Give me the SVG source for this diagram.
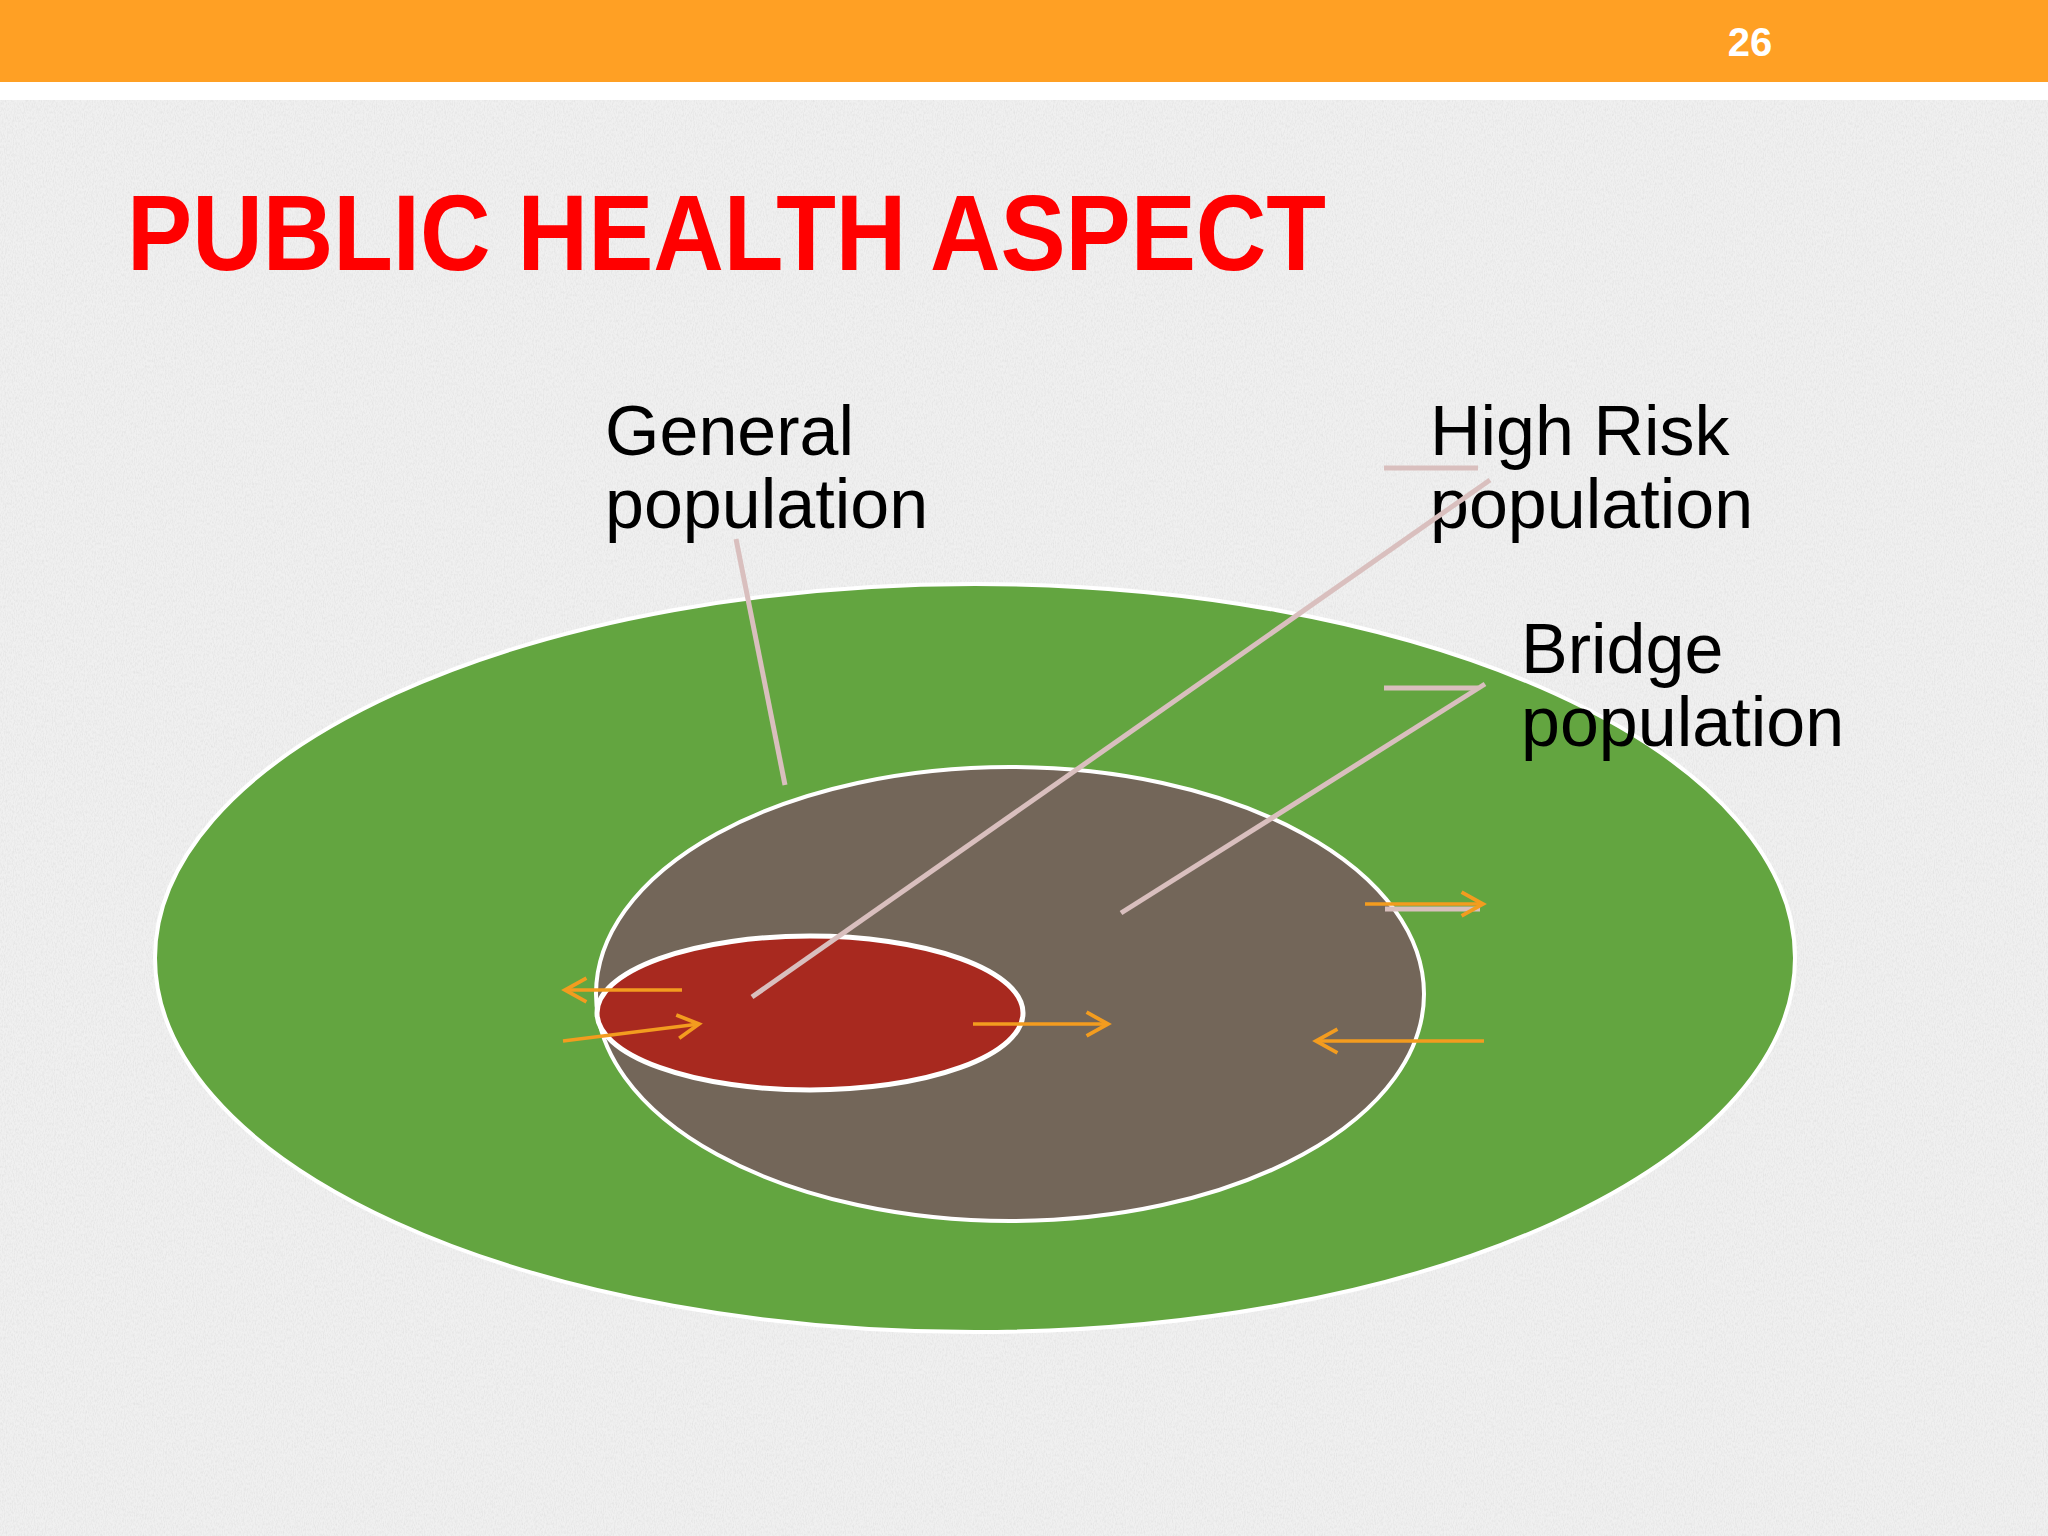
<svg xmlns="http://www.w3.org/2000/svg" width="2048" height="1536" viewBox="0 0 2048 1536">
  <style>
    .label { font-family: "Liberation Sans", Arial, sans-serif; font-size: 70px; fill: #000000; }
    .leader { stroke: #D9BFBE; stroke-width: 5; fill: none; stroke-linecap: butt; }
    .flow { stroke: #F39C1F; stroke-width: 3.5; fill: none; }
    .ring { stroke: #FFFFFF; stroke-width: 4; }
  </style>
  <defs>
    <marker id="arrow" markerUnits="userSpaceOnUse" markerWidth="30" markerHeight="30" viewBox="-24 -14 28 28" refX="0" refY="0" orient="auto">
      <polyline points="-20,-11 0,0 -20,11" fill="none" stroke="#F39C1F" stroke-width="3.5"/>
    </marker>
    <filter id="paper" x="0" y="0" width="100%" height="100%">
      <feTurbulence type="fractalNoise" baseFrequency="0.9 0.35" numOctaves="2" seed="4" result="n"/>
      <feColorMatrix type="matrix" values="0 0 0 0 0.6  0 0 0 0 0.6  0 0 0 0 0.6  0 0 0 -2.2 1.35" in="n" result="m"/>
      <feComposite in="m" in2="SourceGraphic" operator="in"/>
    </filter>
  </defs>

  <!-- background -->
  <rect x="0" y="0" width="2048" height="1536" fill="#F0F0F0"/>
  <rect x="0" y="100" width="2048" height="1436" fill="#F0F0F0" filter="url(#paper)" opacity="0.3"/>
  <rect x="0" y="82" width="2048" height="18" fill="#FFFFFF"/>
  <rect x="0" y="0" width="2048" height="82" fill="#FFA024"/>
  <text x="1750" y="56" text-anchor="middle" font-family="Liberation Sans, Arial, sans-serif" font-size="40" font-weight="bold" fill="#FFFFFF">26</text>

  <text x="127" y="270" font-family="Liberation Sans, Arial, sans-serif" font-size="107" font-weight="bold" fill="#FF0000" textLength="1199" lengthAdjust="spacingAndGlyphs">PUBLIC HEALTH ASPECT</text>

  <g id="general-population">
    <ellipse cx="975" cy="958" rx="820" ry="374" fill="#63A540" class="ring"/>
  </g>
  <g id="bridge-population">
    <ellipse cx="1010" cy="994" rx="414" ry="227" fill="#736659" class="ring"/>
  </g>
  <g id="high-risk-population">
    <ellipse cx="810" cy="1013" rx="213" ry="77" fill="#A8291F" stroke="#FFFFFF" stroke-width="5"/>
  </g>

  <g id="label-general">
    <text class="label" x="605" y="455">General</text>
    <text class="label" x="605" y="528">population</text>
  </g>
  <g id="label-high-risk">
    <text class="label" x="1430" y="455">High Risk</text>
    <text class="label" x="1430" y="528">population</text>
  </g>
  <g id="label-bridge">
    <text class="label" x="1521" y="673">Bridge</text>
    <text class="label" x="1521" y="746">population</text>
  </g>

  <g id="connectors">
    <line class="leader" x1="736" y1="539" x2="785" y2="785"/>
    <line class="leader" x1="1384" y1="468" x2="1478" y2="468"/>
    <line class="leader" x1="1490" y1="480" x2="752" y2="997"/>
    <line class="leader" x1="1384" y1="688" x2="1478" y2="688"/>
    <line class="leader" x1="1485" y1="684" x2="1121" y2="913"/>
    <line class="leader" x1="1385" y1="909" x2="1480" y2="909"/>
    <line class="flow" x1="682" y1="990" x2="565" y2="990" marker-end="url(#arrow)"/>
    <line class="flow" x1="563" y1="1041" x2="699" y2="1024" marker-end="url(#arrow)"/>
    <line class="flow" x1="973" y1="1024" x2="1108" y2="1024" marker-end="url(#arrow)"/>
    <line class="flow" x1="1365" y1="904" x2="1483" y2="904" marker-end="url(#arrow)"/>
    <line class="flow" x1="1484" y1="1041" x2="1316" y2="1041" marker-end="url(#arrow)"/>
  </g>
</svg>
